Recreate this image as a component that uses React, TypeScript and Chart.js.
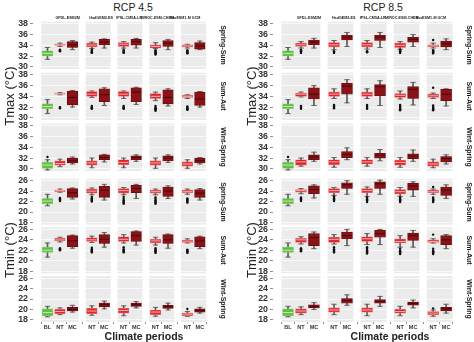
import React, { useEffect, useRef } from 'react';
import { Chart, registerables } from 'chart.js';
Chart.register(...registerables);

// ---------- categories / labels ----------
const scenarios = ['RCP 4.5', 'RCP 8.5'];
const models = ['GFDL-ESM2M', 'HadGEM2-ES', 'IPSL-CM5A-LR', 'MIROC-ESM-CHEM', 'NorESM1-M GCM'];
const facetPeriods = [['BL', 'NT', 'MC'], ['NT', 'MC'], ['NT', 'MC'], ['NT', 'MC'], ['NT', 'MC']];
const seasons = ['Spring-Sum', 'Sum-Aut', 'Wint-Spring'];
const variableTitles = ['Tmax (°C)', 'Tmin (°C)'];
const xAxisTitle = 'Climate periods';
const tmaxTicks = [30, 32, 34, 36, 38];
const tminTicks = [18, 20, 22, 24, 26];
const tmaxRange = [29.6, 38.4];
const tminRange = [17.6, 26.4];

// ---------- box statistics [lower whisker, Q1, median, Q3, upper whisker] ----------
// order: GFDL BL, GFDL NT, GFDL MC, HadGEM2 NT, MC, IPSL NT, MC, MIROC NT, MC, NorESM NT, MC
const rcp45TmaxSpringSum = [
  [31.4, 32.0, 32.5, 33.0, 33.6], [33.8, 34.0, 34.1, 34.25, 34.4], [33.2, 33.6, 34.1, 34.7, 34.9],
  [33.4, 33.7, 34.05, 34.4, 34.6], [33.5, 34.1, 34.6, 35.1, 35.2],
  [33.5, 33.8, 34.2, 34.5, 34.7], [33.5, 34.05, 34.7, 35.1, 35.3],
  [33.4, 33.5, 33.8, 34.1, 34.5], [33.2, 33.8, 34.4, 34.9, 35.1],
  [33.5, 33.7, 33.9, 34.1, 34.2], [33.2, 33.3, 33.9, 34.5, 34.8],
];
const rcp45TmaxSpringSumOut = [[], [32.9, 33.0, 33.1, 33.2], [], [32.6, 32.7, 32.8, 33.0, 33.2], [], [32.6, 32.7, 32.8, 33.0, 33.2], [], [32.3, 32.5, 32.6, 32.7, 32.9, 33.1], [], [32.5, 32.6, 32.7, 32.9, 33.1], []];

const rcp45TmaxSumAut = [
  [30.8, 31.7, 32.1, 32.6, 33.4], [34.3, 34.4, 34.5, 34.6, 34.7], [32.0, 32.4, 33.8, 35.0, 35.1],
  [33.8, 34.0, 34.4, 34.9, 35.0], [32.3, 33.0, 34.3, 35.4, 35.6],
  [33.6, 34.0, 34.4, 34.9, 35.0], [32.5, 33.0, 34.8, 35.6, 35.7],
  [33.2, 33.6, 34.0, 34.5, 34.8], [32.2, 32.6, 33.8, 35.2, 35.4],
  [33.6, 33.8, 34.0, 34.2, 34.3], [32.0, 32.3, 33.5, 34.8, 34.9],
];
const rcp45TmaxSumAutOut = [[], [31.8, 31.9, 32.0], [], [31.7, 31.8, 31.9, 32.0, 32.2], [], [31.7, 31.8, 31.9, 32.0, 32.2], [], [31.3, 31.5, 31.6, 31.8, 31.9, 32.2], [], [31.5, 31.6, 31.8, 31.9, 32.1], []];

const rcp45TmaxWintSpring = [
  [29.8, 30.1, 30.7, 31.2, 31.7], [30.4, 30.7, 31.0, 31.5, 31.8], [30.9, 31.1, 31.5, 32.0, 32.2],
  [30.2, 30.7, 31.1, 31.5, 32.0], [31.3, 31.7, 32.1, 32.6, 32.7],
  [30.2, 30.8, 31.2, 31.7, 32.0], [31.4, 31.7, 32.1, 32.4, 32.6],
  [30.1, 30.7, 31.1, 31.5, 32.0], [31.2, 31.5, 32.0, 32.4, 32.6],
  [30.1, 30.5, 30.9, 31.3, 31.7], [30.9, 31.1, 31.5, 32.0, 32.1],
];
const rcp45TmaxWintSpringOut = [[32.2], [], [], [], [], [], [], [], [], [], []];

const rcp45TminSpringSum = [
  [21.2, 21.6, 22.1, 22.6, 23.4], [23.8, 23.9, 24.1, 24.2, 24.4], [22.5, 22.8, 23.7, 24.5, 24.6],
  [23.3, 23.6, 24.0, 24.4, 24.6], [22.3, 22.8, 24.2, 24.9, 25.3],
  [23.3, 23.6, 24.1, 24.5, 24.7], [22.6, 23.7, 24.5, 25.1, 25.3],
  [23.3, 23.6, 23.9, 24.2, 24.4], [22.6, 23.0, 24.0, 24.8, 25.0],
  [23.4, 23.7, 23.9, 24.2, 24.4], [22.3, 22.8, 23.6, 24.3, 24.5],
];
const rcp45TminSpringSumOut = [[], [22.1, 22.3, 22.4, 22.6, 22.7], [], [22.0, 22.2, 22.3, 22.5, 22.6, 22.9], [], [21.6, 21.8, 21.9, 22.1, 22.2, 22.5, 22.9], [], [21.6, 21.8, 21.9, 22.1, 22.2, 22.5, 22.8], [], [21.8, 22.0, 22.1, 22.3, 22.4, 22.6], []];

const rcp45TminSumAut = [
  [20.7, 21.6, 22.0, 22.6, 23.4], [23.6, 23.8, 24.0, 24.3, 24.5], [22.4, 22.7, 23.8, 24.8, 24.9],
  [23.5, 23.7, 24.0, 24.4, 24.7], [22.6, 23.3, 24.1, 25.0, 25.4],
  [23.4, 23.7, 24.1, 24.6, 25.0], [23.0, 23.7, 24.8, 25.6, 25.7],
  [23.0, 23.4, 23.8, 24.1, 24.5], [22.4, 23.3, 24.0, 25.0, 25.1],
  [23.4, 23.5, 23.75, 24.0, 24.2], [22.3, 22.7, 23.8, 24.6, 24.7],
];
const rcp45TminSumAutOut = [[], [22.0, 22.1, 22.2, 22.4], [], [21.6, 21.8, 21.9, 22.1, 22.2, 22.5], [], [21.6, 21.8, 21.9, 22.1, 22.2, 22.6], [], [21.5, 21.7, 21.8, 22.0, 22.1, 22.4], [], [21.5, 21.7, 21.8, 22.0, 22.1], []];

const rcp45TminWintSpring = [
  [18.6, 18.8, 19.4, 20.1, 20.6], [19.0, 19.2, 19.6, 20.0, 20.3], [19.5, 19.7, 20.0, 20.4, 20.8],
  [18.9, 19.2, 19.7, 20.2, 20.7], [20.1, 20.5, 20.9, 21.2, 21.6],
  [18.8, 19.3, 19.8, 20.2, 20.7], [20.3, 20.6, 20.9, 21.2, 21.5],
  [18.7, 19.0, 19.5, 19.9, 20.4], [19.9, 20.2, 20.5, 20.8, 21.2],
  [18.7, 18.8, 19.1, 19.3, 19.6], [19.3, 19.5, 19.8, 20.1, 20.4],
];
const rcp45TminWintSpringOut = [[], [], [], [], [], [], [], [], [], [20.1], []];

const rcp85TmaxSpringSum = [
  [31.4, 32.0, 32.5, 33.0, 33.6], [33.5, 33.8, 34.1, 34.4, 34.7], [33.5, 34.1, 34.6, 35.0, 35.3],
  [33.2, 33.7, 34.1, 34.5, 34.9], [33.8, 35.0, 35.5, 35.9, 36.4],
  [33.3, 33.7, 34.1, 34.5, 34.9], [33.6, 34.9, 35.5, 35.9, 36.4],
  [33.3, 33.6, 34.0, 34.4, 34.7], [33.8, 34.6, 35.1, 35.5, 36.0],
  [33.5, 33.7, 33.9, 34.1, 34.4], [33.2, 33.7, 34.3, 34.8, 35.2],
];
const rcp85TmaxSpringSumOut = [[], [32.6, 32.8, 32.9, 33.1, 33.2], [], [32.6, 32.8, 32.9], [], [32.7, 32.8, 32.9], [], [32.6, 32.8, 32.9, 33.1, 33.2], [], [35.0, 32.5, 32.7, 32.8, 33.0, 33.1], []];

const rcp85TmaxSumAut = [
  [30.8, 31.7, 32.1, 32.6, 33.4], [33.9, 34.0, 34.4, 34.6, 34.8], [32.3, 33.5, 34.4, 35.6, 36.0],
  [33.6, 34.0, 34.4, 34.8, 35.4], [32.8, 34.4, 35.9, 36.4, 37.1],
  [33.6, 34.0, 34.4, 34.8, 35.4], [32.3, 34.1, 35.8, 36.2, 36.9],
  [33.5, 33.8, 34.2, 34.5, 35.0], [32.4, 33.6, 35.3, 35.8, 36.6],
  [33.6, 33.8, 34.1, 34.4, 34.6], [32.2, 33.2, 34.4, 35.3, 35.4],
];
const rcp85TmaxSumAutOut = [[], [31.7, 31.9, 32.0, 32.2], [], [31.8, 31.9, 32.1, 32.2, 32.4], [], [31.7, 31.9, 32.0, 32.2, 32.4], [], [31.4, 31.6, 31.7, 31.9, 32.0, 32.2, 32.4], [], [35.6, 31.4, 31.6, 31.7, 31.9, 32.0, 32.3], []];

const rcp85TmaxWintSpring = [
  [29.8, 30.1, 30.7, 31.2, 31.7], [30.5, 30.7, 31.3, 31.7, 32.0], [31.4, 31.7, 32.2, 32.6, 33.1],
  [30.3, 30.8, 31.3, 31.7, 32.1], [31.7, 32.1, 32.7, 33.2, 33.9],
  [30.5, 30.9, 31.3, 31.7, 32.1], [31.5, 32.0, 32.5, 32.9, 33.6],
  [30.3, 30.7, 31.2, 31.6, 32.1], [31.4, 31.9, 32.4, 32.8, 33.5],
  [30.2, 30.5, 30.9, 31.3, 31.8], [30.9, 31.3, 31.9, 32.3, 32.6],
];
const rcp85TmaxWintSpringOut = [[32.2], [], [], [], [], [], [], [], [], [], []];

const rcp85TminSpringSum = [
  [21.2, 21.6, 22.1, 22.6, 23.4], [23.5, 23.8, 24.1, 24.3, 24.5], [22.7, 23.5, 24.3, 25.0, 25.2],
  [23.2, 23.7, 24.1, 24.5, 24.7], [23.4, 24.5, 25.2, 25.6, 26.0],
  [23.0, 23.7, 24.1, 24.5, 24.8], [23.4, 24.5, 25.4, 25.8, 26.1],
  [23.0, 23.5, 23.9, 24.3, 24.7], [23.0, 24.2, 25.0, 25.5, 25.8],
  [23.4, 23.7, 23.9, 24.2, 24.4], [22.6, 23.2, 24.2, 24.8, 25.2],
];
const rcp85TminSpringSumOut = [[], [22.1, 22.3, 22.4, 22.6, 22.8], [], [22.1, 22.3, 22.4, 22.6, 22.7, 23.0], [], [21.9, 22.1, 22.2, 22.4, 22.5, 22.8], [], [21.9, 22.1, 22.2, 22.4, 22.5, 22.8], [], [24.8, 21.9, 22.1, 22.2, 22.4, 22.5, 22.8], []];

const rcp85TminSumAut = [
  [20.7, 21.6, 22.0, 22.6, 23.4], [23.2, 23.5, 24.0, 24.3, 24.6], [22.3, 22.9, 24.4, 25.2, 25.5],
  [23.2, 23.5, 24.1, 24.5, 25.0], [22.9, 24.2, 24.8, 25.5, 26.0],
  [23.1, 23.7, 24.2, 24.6, 25.2], [23.1, 24.5, 25.2, 25.8, 26.0],
  [22.6, 23.4, 23.7, 24.2, 24.8], [22.6, 23.9, 24.8, 25.3, 25.8],
  [23.4, 23.5, 23.7, 24.0, 24.2], [22.3, 23.1, 24.0, 24.8, 25.0],
];
const rcp85TminSumAutOut = [[], [21.8, 22.0, 22.1, 22.2, 22.4], [], [21.6, 21.8, 21.9, 22.1, 22.2, 22.6], [], [21.4, 21.6, 21.7, 21.9, 22.0, 22.3, 22.6], [], [21.3, 21.5, 21.6, 21.8, 21.9, 22.3], [], [25.0, 21.3, 21.5, 21.6, 21.8, 21.9, 22.3], []];

const rcp85TminWintSpring = [
  [18.6, 18.8, 19.4, 20.1, 20.6], [19.0, 19.3, 19.7, 20.1, 20.5], [20.0, 20.3, 20.6, 20.9, 21.3],
  [19.0, 19.5, 19.9, 20.3, 21.0], [20.8, 21.2, 21.7, 22.1, 22.8],
  [18.8, 19.5, 19.9, 20.3, 21.0], [20.6, 21.2, 21.5, 21.9, 22.5],
  [18.8, 19.3, 19.6, 20.0, 20.6], [20.3, 20.8, 21.1, 21.4, 21.8],
  [18.7, 19.0, 19.3, 19.6, 19.9], [19.3, 19.7, 20.1, 20.4, 21.0],
];
const rcp85TminWintSpringOut = [[], [], [], [], [], [], [], [], [], [20.2], []];

const panelStats = [
  [rcp45TmaxSpringSum, rcp45TmaxSumAut, rcp45TmaxWintSpring, rcp45TminSpringSum, rcp45TminSumAut, rcp45TminWintSpring],
  [rcp85TmaxSpringSum, rcp85TmaxSumAut, rcp85TmaxWintSpring, rcp85TminSpringSum, rcp85TminSumAut, rcp85TminWintSpring],
];
const panelOutliers = [
  [rcp45TmaxSpringSumOut, rcp45TmaxSumAutOut, rcp45TmaxWintSpringOut, rcp45TminSpringSumOut, rcp45TminSumAutOut, rcp45TminWintSpringOut],
  [rcp85TmaxSpringSumOut, rcp85TmaxSumAutOut, rcp85TmaxWintSpringOut, rcp85TminSpringSumOut, rcp85TminSumAutOut, rcp85TminWintSpringOut],
];

// ---------- styles / layout ----------
const FONT = '"Liberation Sans", Arial, Helvetica, sans-serif';
const PERIOD_STYLE: Record<string, { fill: string; border: string; median: string }> = {
  BL: { fill: '#62BD45', border: '#86CF68', median: '#C6EBB2' },
  NT: { fill: '#DF262C', border: '#EC6A6A', median: '#F7B0B0' },
  MC: { fill: '#8A1318', border: '#6A0B0F', median: '#4A0306' },
};
const GAP = 0.55;
const PANELS = [
  { canvasLeft: 0, plotL: 33, plotR: 218, titleX: 133, xTitleX: 144, yTitleX: 9, stripX: 223 },
  { canvasLeft: 240, plotL: 273, plotR: 465, titleX: 383, xTitleX: 390, yTitleX: 251, stripX: 469 },
];
const ROW_TOPS = [21.7, 72.7, 123.7, 178.6, 227.3, 276.0];
const ROW_H = [47.3, 47.3, 47.3, 46, 46, 46];

const xLayout = (() => {
  const centers: number[] = [];
  const labels: string[] = [];
  const facets: [number, number][] = [];
  let s = 0;
  facetPeriods.forEach((ps) => {
    facets.push([s, s + ps.length]);
    ps.forEach((p, k) => {
      centers.push(s + k + 0.5);
      labels.push(p);
    });
    s += ps.length + GAP;
  });
  return { centers, labels, facets, total: s - GAP, facetCenters: facets.map(([a, b]) => (a + b) / 2) };
})();

function buildDatasets(stats: number[][], outliers: number[][], boxW: number) {
  const { centers, labels } = xLayout;
  const ds: any[] = [];
  ds.push({
    type: 'bar',
    data: centers.map((x, i) => ({ x, y: [stats[i][0], stats[i][4]] })),
    backgroundColor: '#5a5a5a',
    borderWidth: 0,
    barThickness: 1,
    grouped: false,
    order: 6,
  });
  ds.push({
    type: 'scatter',
    data: centers.flatMap((x, i) => [{ x, y: stats[i][0] }, { x, y: stats[i][4] }]),
    pointStyle: 'line',
    pointRadius: boxW / 4,
    pointBorderColor: '#5a5a5a',
    pointBorderWidth: 0.9,
    order: 5,
  });
  ['BL', 'NT', 'MC'].forEach((p) => {
    const idx = labels.map((l, i) => (l === p ? i : -1)).filter((i) => i >= 0);
    const st = PERIOD_STYLE[p];
    ds.push({
      type: 'bar',
      data: idx.map((i) => ({ x: centers[i], y: [stats[i][1], stats[i][3]] })),
      backgroundColor: st.fill,
      borderColor: st.border,
      borderWidth: 0.7,
      borderSkipped: false,
      barThickness: boxW,
      grouped: false,
      order: 3,
    });
    ds.push({
      type: 'scatter',
      data: idx.map((i) => ({ x: centers[i], y: stats[i][2] })),
      pointStyle: 'line',
      pointRadius: boxW / 2 - 0.6,
      pointBorderColor: st.median,
      pointBorderWidth: 1,
      order: 2,
    });
  });
  ds.push({
    type: 'scatter',
    data: centers.flatMap((x, i) => outliers[i].map((y) => ({ x, y }))),
    pointStyle: 'circle',
    pointRadius: 1.2,
    pointBackgroundColor: '#111',
    pointBorderWidth: 0,
    order: 1,
  });
  return ds;
}

function RowChart({ panel, row }: { panel: number; row: number }) {
  const ref = useRef<HTMLCanvasElement>(null);
  const geo = PANELS[panel];
  const isTop = row === 0;
  const isBottom = row === 5;
  const topAxisH = isTop ? 8 : 0;
  const xAxisH = isBottom ? 9 : 0;
  const rowTop = ROW_TOPS[row];
  const rowH = ROW_H[row];
  const canvasTop = Math.floor(rowTop) - 8 - topAxisH;
  const padTop = rowTop - canvasTop - topAxisH;
  const canvasBottom = Math.ceil(rowTop + rowH + xAxisH + (isBottom ? 2 : 8));
  const height = canvasBottom - canvasTop;
  const padBottom = height - (rowTop - canvasTop) - rowH - xAxisH;
  const width = geo.plotR + 2 - geo.canvasLeft;
  const yW = geo.plotL - geo.canvasLeft;

  useEffect(() => {
    const isTmax = row < 3;
    const yTicks = isTmax ? tmaxTicks : tminTicks;
    const yRange = isTmax ? tmaxRange : tminRange;
    const unitPx = (geo.plotR - geo.plotL) / xLayout.total;
    const boxW = unitPx * 0.75;
    const facetBg = {
      id: 'facetBg',
      beforeDraw(chart: any) {
        const { ctx, chartArea, scales } = chart;
        ctx.save();
        ctx.fillStyle = '#EBEBEB';
        xLayout.facets.forEach(([a, b]) => {
          const l = scales.x.getPixelForValue(a);
          const r = scales.x.getPixelForValue(b);
          ctx.fillRect(l, chartArea.top, r - l, chartArea.bottom - chartArea.top);
        });
        ctx.restore();
      },
    };
    const scales: any = {
      x: {
        type: 'linear',
        min: 0,
        max: xLayout.total,
        display: isBottom,
        afterBuildTicks: (s: any) => {
          s.ticks = xLayout.centers.map((v) => ({ value: v }));
        },
        afterFit: (s: any) => {
          s.height = xAxisH;
          s.paddingLeft = 0;
          s.paddingRight = 0;
        },
        ticks: {
          autoSkip: false,
          maxRotation: 0,
          padding: 0,
          color: '#333',
          font: { family: FONT, size: 5.5, weight: 'bold' },
          callback: (_v: any, i: number) => xLayout.labels[i],
        },
        grid: { drawOnChartArea: false, color: 'rgba(0,0,0,0)', tickColor: '#444', tickLength: 2, tickWidth: 0.6 },
        border: { display: false },
      },
      y: {
        type: 'linear',
        min: yRange[0],
        max: yRange[1],
        afterBuildTicks: (s: any) => {
          s.ticks = yTicks.map((v) => ({ value: v }));
        },
        afterFit: (s: any) => {
          s.width = yW;
          s.paddingTop = 0;
          s.paddingBottom = 0;
        },
        ticks: { autoSkip: false, padding: 2, color: '#333', font: { family: FONT, size: 8.8, weight: 'bold' } },
        grid: { color: '#ffffff', lineWidth: 0.7, tickColor: '#444', tickLength: 3, tickWidth: 0.6 },
        border: { display: false },
      },
    };
    if (isTop) {
      scales.xTop = {
        type: 'linear',
        axis: 'x',
        position: 'top',
        min: 0,
        max: xLayout.total,
        afterBuildTicks: (s: any) => {
          s.ticks = xLayout.facetCenters.map((v) => ({ value: v }));
        },
        afterFit: (s: any) => {
          s.height = topAxisH;
          s.paddingLeft = 0;
          s.paddingRight = 0;
        },
        ticks: {
          autoSkip: false,
          maxRotation: 0,
          padding: 2,
          color: '#222',
          font: { family: FONT, size: 3.7, weight: 'bold' },
          callback: (_v: any, i: number) => models[i],
        },
        grid: { display: false, drawTicks: false },
        border: { display: false },
      };
    }
    const chart = new Chart(ref.current as HTMLCanvasElement, {
      type: 'bar',
      data: { datasets: buildDatasets(panelStats[panel][row], panelOutliers[panel][row], boxW) },
      options: {
        responsive: false,
        animation: false,
        events: [],
        layout: { padding: { left: 0, right: 2, top: padTop, bottom: padBottom } },
        plugins: { legend: { display: false }, tooltip: { enabled: false } },
        scales,
      } as any,
      plugins: [facetBg],
    });
    return () => chart.destroy();
  }, []);

  return (
    <canvas
      ref={ref}
      width={width}
      height={height}
      style={{ position: 'absolute', left: geo.canvasLeft, top: canvasTop, width, height }}
    />
  );
}

function Txt({ x, y, rot = 0, style, children }: { x: number; y: number; rot?: number; style?: any; children: any }) {
  return (
    <div
      style={{
        position: 'absolute',
        left: x,
        top: y,
        transform: `translate(-50%, -50%) rotate(${rot}deg)`,
        whiteSpace: 'nowrap',
        lineHeight: 1,
        fontFamily: FONT,
        color: '#222',
        ...style,
      }}
    >
      {children}
    </div>
  );
}

export default function App() {
  useEffect(() => {
    document.body.style.margin = '0';
  }, []);
  const tmaxCenter = (ROW_TOPS[0] + ROW_TOPS[2] + ROW_H[2]) / 2;
  const tminCenter = (ROW_TOPS[3] + ROW_TOPS[5] + ROW_H[5]) / 2;
  return (
    <div style={{ position: 'fixed', left: 0, top: 0, width: 474, height: 342, background: '#fff', overflow: 'hidden' }}>
      {PANELS.map((geo, p) => (
        <React.Fragment key={p}>
          <Txt x={geo.titleX} y={7} style={{ fontSize: 10.5 }}>{scenarios[p]}</Txt>
          {ROW_TOPS.map((_, r) => (
            <RowChart key={r} panel={p} row={r} />
          ))}
          {ROW_TOPS.map((t, r) => (
            <Txt key={'s' + r} x={geo.stripX} y={t + ROW_H[r] / 2} rot={90} style={{ fontSize: 7, fontWeight: 'bold', color: '#1a1a1a' }}>
              {seasons[r % 3]}
            </Txt>
          ))}
          <Txt x={geo.yTitleX} y={tmaxCenter} rot={-90} style={{ fontSize: 13 }}>{variableTitles[0]}</Txt>
          <Txt x={geo.yTitleX} y={tminCenter} rot={-90} style={{ fontSize: 13 }}>{variableTitles[1]}</Txt>
          <Txt x={geo.xTitleX} y={336} style={{ fontSize: 10.5, fontWeight: 'bold' }}>{xAxisTitle}</Txt>
        </React.Fragment>
      ))}
    </div>
  );
}
